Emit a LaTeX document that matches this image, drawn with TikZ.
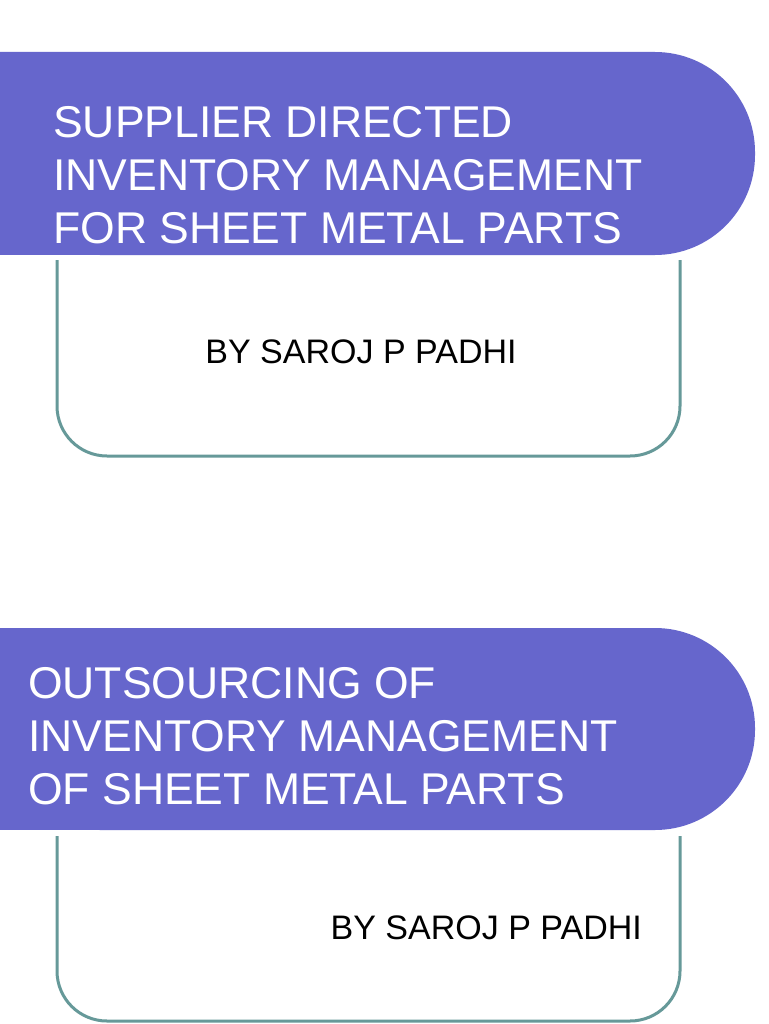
\documentclass[tikz,border=0pt]{standalone}
\usepackage{fontspec}
\setmainfont{Liberation Sans}
\definecolor{ban}{HTML}{6666CC}
\definecolor{tl}{HTML}{669999}
\begin{document}
\begin{tikzpicture}[x=1pt,y=-1pt,
  banner/.style={fill=ban,draw=none},
  frame/.style={draw=tl,line width=3pt},
  title/.style={text=white,font=\fontsize{44.5}{53}\selectfont,align=left,anchor=west,inner sep=0pt},
  by/.style={font=\fontsize{34}{40}\selectfont,inner sep=0pt}]
\useasboundingbox (0,0) rectangle (768,1024);
\fill[white] (0,0) rectangle (768,1024);
% first
\draw[frame,rounded corners=50pt] (57,260) -- (57,456) -- (680,456) -- (680,260);
\path[banner] [rounded corners=100pt] (0,52) -- (755,52) -- (755,255) -- (0,255) [sharp corners] -- cycle;
\fill[ban] (0,52) rectangle (200,255);
\node[title] (t1) at (53,175) {SUPPLIER DIRECTED\\INVENTORY MANAGEMENT\\FOR SHEET METAL PARTS};
\node[by] (b1) at (361,352) {BY SAROJ P PADHI};
% second
\draw[frame,rounded corners=50pt] (57,836) -- (57,1021) -- (680,1021) -- (680,836);
\path[banner] [rounded corners=100pt] (0,628) -- (755,628) -- (755,830) -- (0,830) [sharp corners] -- cycle;
\fill[ban] (0,628) rectangle (200,830);
\node[title] (t2) at (28,736) {OUTSOURCING OF\\INVENTORY MANAGEMENT\\OF SHEET METAL PARTS};
\node[by,anchor=east] (b2) at (642,928) {BY SAROJ P PADHI};
\end{tikzpicture}
\end{document}
